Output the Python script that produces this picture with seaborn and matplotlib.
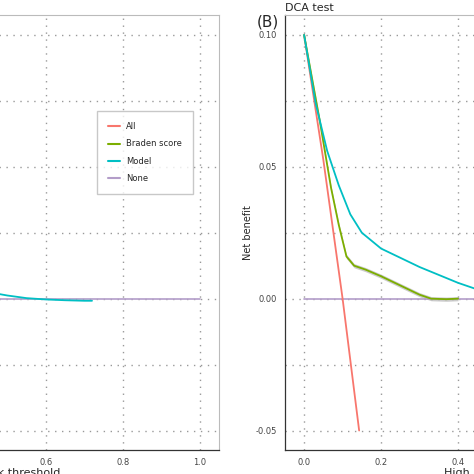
import matplotlib.pyplot as plt
import seaborn as sns
import pandas as pd
import numpy as np

sns.set_style("white")

# Panel A (train) - only the visible part
a_model_x = [0.40, 0.45, 0.50, 0.55, 0.60, 0.65, 0.70, 0.72]
a_model_y = [0.0035, 0.0025, 0.0012, 0.0002, -0.0003, -0.0006, -0.0008, -0.0008]
a_none_x = [0.0, 1.0]
a_none_y = [0.0, 0.0]

# Panel B (test)
all_x = [0.0, 0.05, 0.10, 0.143]
all_y = [0.10, 0.0526, 0.0, -0.05]
braden_x = [0.0, 0.04, 0.07, 0.09, 0.11, 0.13, 0.16, 0.20, 0.25, 0.30, 0.33, 0.37, 0.40]
braden_y = [0.10, 0.068, 0.042, 0.028, 0.016, 0.0125, 0.011, 0.0085, 0.005, 0.0015, 0.0, -0.0002, 0.0]
model_x = [0.0, 0.03, 0.06, 0.09, 0.12, 0.15, 0.20, 0.25, 0.30, 0.35, 0.40, 0.45, 0.50, 0.55, 0.60]
model_y = [0.10, 0.074, 0.056, 0.043, 0.032, 0.025, 0.019, 0.0155, 0.012, 0.009, 0.006, 0.0035, 0.0015, 0.0, -0.001]
none_x = [0.0, 1.0]
none_y = [0.0, 0.0]

colors = {"All": "#F8766D", "Braden score": "#7CAE00", "Model": "#00BFC4", "None": "#B39DC9"}

fig = plt.figure(figsize=(4.74, 4.74), dpi=100)
ax_a = fig.add_axes([-0.431, 0.05, 0.893, 0.918])
ax_b = fig.add_axes([0.601, 0.05, 0.893, 0.918])


def style(ax):
    ax.set_xlim(-0.05, 1.05)
    ax.set_ylim(-0.0575, 0.1075)
    ax.set_xticks([0.0, 0.2, 0.4, 0.6, 0.8, 1.0])
    ax.set_yticks([-0.05, 0.0, 0.05, 0.10])
    ax.set_yticks([-0.025, 0.025, 0.075], minor=True)
    ax.set_xticklabels(["0.0", "0.2", "0.4", "0.6", "0.8", "1.0"])
    ax.set_yticklabels(["-0.05", "0.00", "0.05", "0.10"])
    ax.grid(True, which="both", color="#999999", linestyle=(0, (1, 4)), linewidth=1.0)
    ax.tick_params(labelsize=6, colors="#444444", length=2)
    for s in ["top", "right"]:
        ax.spines[s].set_color("#BBBBBB")
        ax.spines[s].set_linewidth(0.8)
    for s in ["left", "bottom"]:
        ax.spines[s].set_color("#333333")
        ax.spines[s].set_linewidth(0.9)
    ax.set_xlabel("High risk threshold", fontsize=8, labelpad=1)
    ax.set_ylabel("Net benefit", fontsize=7, labelpad=2)


# Panel A
sns.lineplot(x=a_none_x, y=a_none_y, ax=ax_a, color=colors["None"], linewidth=1.2)
sns.lineplot(x=a_model_x, y=a_model_y, ax=ax_a, color=colors["Model"], linewidth=1.3)
style(ax_a)
handles = [plt.Line2D([], [], color=c, linewidth=1.5) for c in colors.values()]
leg = ax_a.legend(handles, list(colors.keys()), loc="upper left", bbox_to_anchor=(0.708, 0.783),
                  fontsize=6, frameon=True, handlelength=1.4, labelspacing=1.0,
                  borderpad=1.0)
leg.get_frame().set_edgecolor("#BBBBBB")
leg.get_frame().set_boxstyle("square")

# Panel B
by = np.array(braden_y)
ax_b.fill_between(braden_x, by - 0.0008, by + 0.0008, color="#999999", alpha=0.5, linewidth=0)
sns.lineplot(x=none_x, y=none_y, ax=ax_b, color=colors["None"], linewidth=1.2)
sns.lineplot(x=all_x, y=all_y, ax=ax_b, color=colors["All"], linewidth=1.3)
sns.lineplot(x=braden_x, y=braden_y, ax=ax_b, color=colors["Braden score"], linewidth=1.3)
sns.lineplot(x=model_x, y=model_y, ax=ax_b, color=colors["Model"], linewidth=1.3)
style(ax_b)
ax_b.set_title("DCA test", fontsize=8, loc="left", pad=3)
fig.text(0.542, 0.97, "(B)", fontsize=11, ha="left", va="top")

fig.savefig("out.png", dpi=100)
